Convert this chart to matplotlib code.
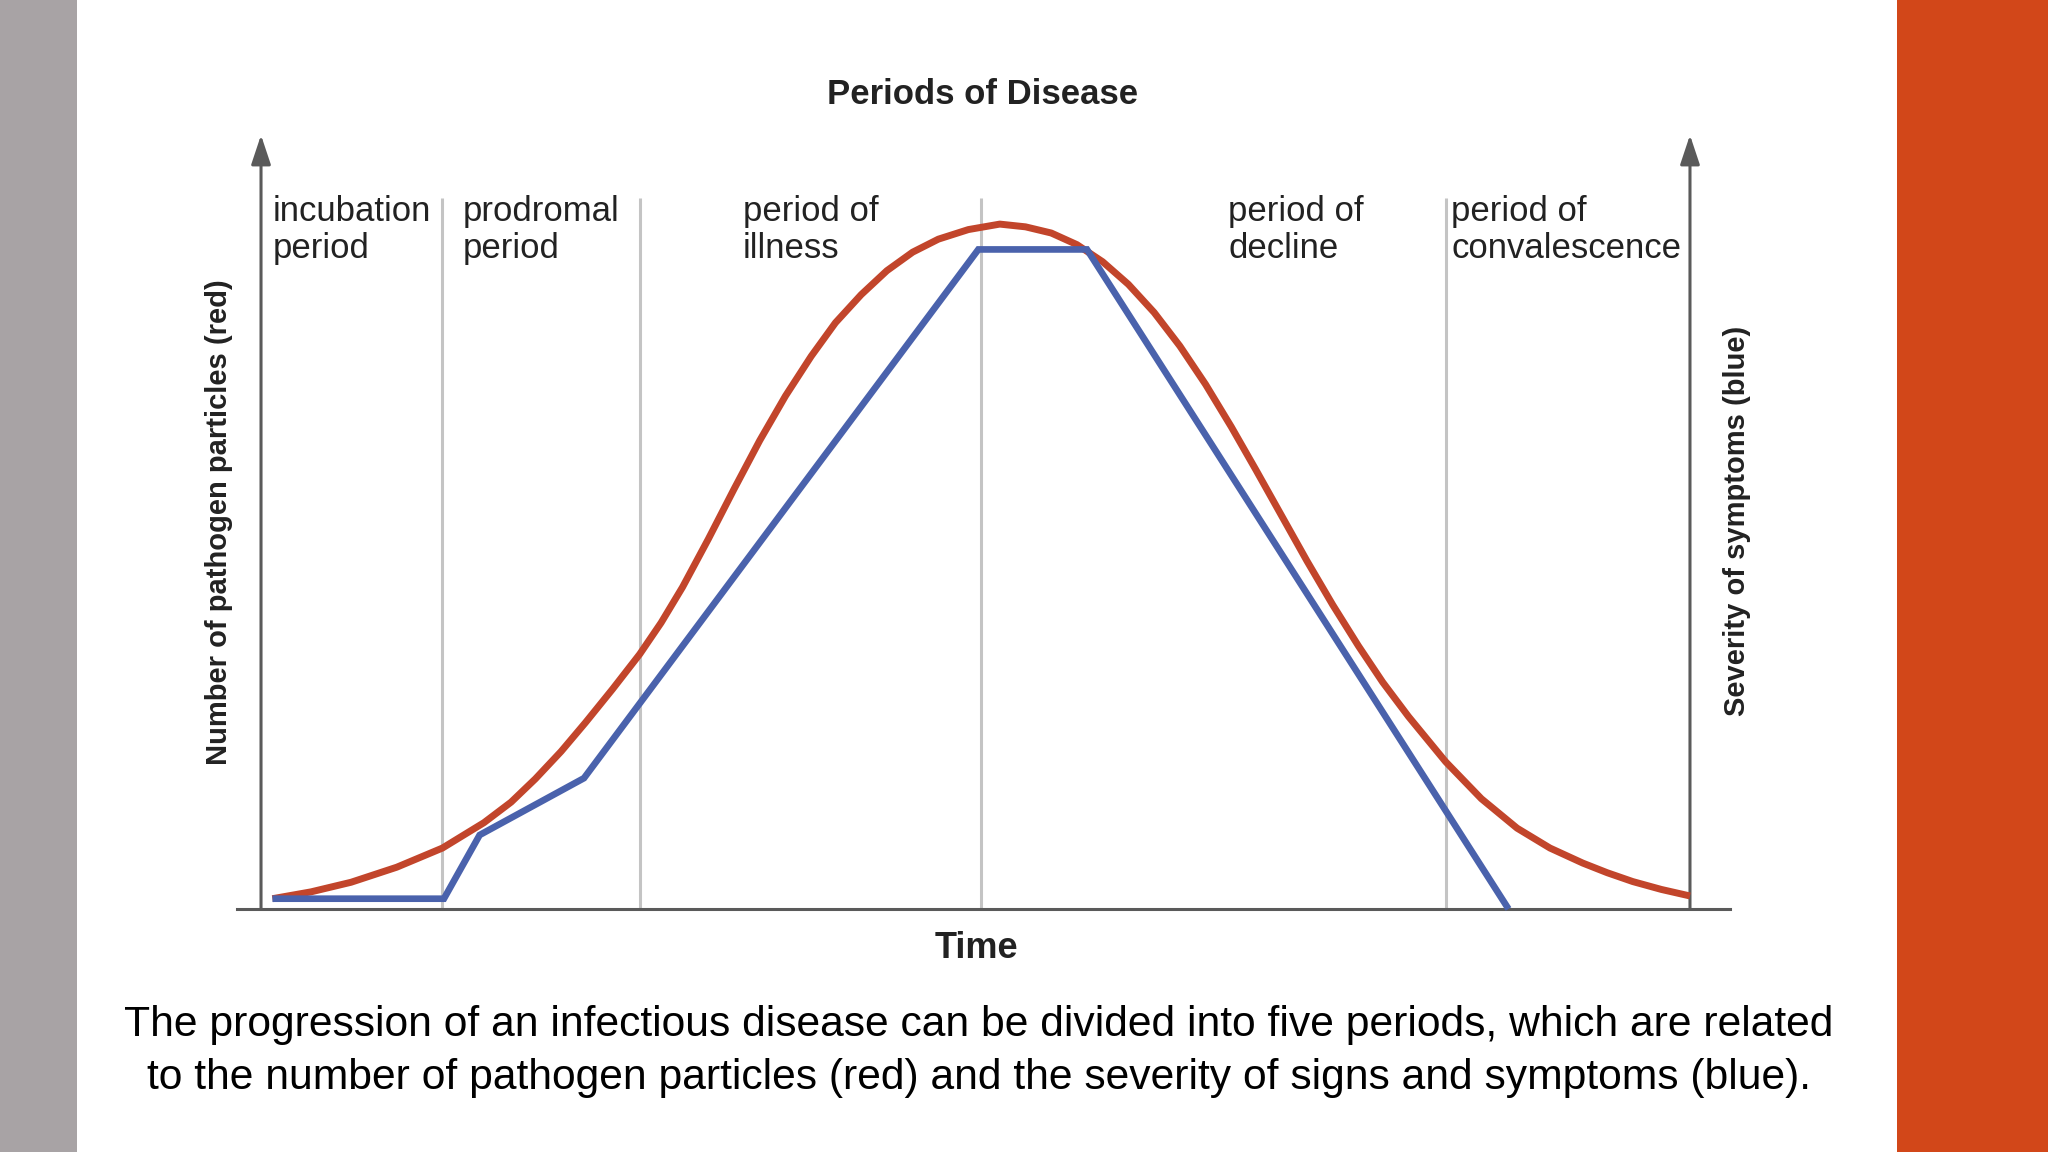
import matplotlib
matplotlib.use("Agg")
import matplotlib.pyplot as plt
from matplotlib.patches import Rectangle

# time runs from 0 (left axis) to 100 (right axis),
# levels are in % of the peak of the red curve
red_t = [0.8, 3.5, 6.3, 9.5, 12.7, 15.6, 17.5, 19.2, 21.0, 22.7, 24.6, 26.5,
         28.0, 29.5, 31.3, 33.1, 34.9, 36.7, 38.5, 40.2, 42.0, 43.8, 45.6,
         47.4, 49.5, 51.7, 53.5, 55.3, 57.1, 58.9, 60.7, 62.5, 64.3, 66.1,
         67.9, 69.6, 71.4, 73.2, 75.0, 76.8, 78.5, 80.3, 82.9, 85.4, 87.9,
         90.2, 92.5, 94.2, 96.0, 98.0, 100.0]
red_level = [1.5, 2.5, 3.9, 6.1, 8.9, 12.6, 15.6, 19.0, 23.0, 27.2, 32.1, 37.2,
             41.8, 47.0, 54.0, 61.3, 68.4, 74.9, 80.7, 85.6, 89.7, 93.2, 95.9,
             97.8, 99.2, 100.0, 99.6, 98.7, 97.0, 94.5, 91.2, 87.1, 82.2, 76.6,
             70.4, 64.2, 57.5, 50.8, 44.4, 38.4, 33.1, 28.1, 21.5, 16.1, 11.8,
             8.9, 6.7, 5.3, 4.0, 2.85, 1.9]

blue_t = [0.8, 12.8, 15.3, 22.6, 50.2, 57.8, 87.3]
blue_level = [1.5, 1.5, 10.8, 19.1, 96.3, 96.3, 0.0]

period_bounds = [12.7, 26.5, 50.4, 82.9]
period_labels = ["incubation\nperiod", "prodromal\nperiod", "period of\nillness",
                 "period of\ndecline", "period of\nconvalescence"]
period_label_x = [0.8, 14.1, 33.7, 67.7, 83.3]

caption_lines = [
    "The progression of an infectious disease can be divided into five periods, which are related",
    "to the number of pathogen particles (red) and the severity of signs and symptoms (blue).",
]

W, H = 2048, 1152
axis_col = "#5a5a5a"
red_col = "#c2452b"
blue_col = "#4a62ac"

fig = plt.figure(figsize=(W / 100, H / 100), dpi=100)
fig.patch.set_facecolor("white")
fig.add_artist(Rectangle((0, 0), 77 / W, 1, transform=fig.transFigure,
                         facecolor="#a8a3a5", edgecolor="none", zorder=0))
fig.add_artist(Rectangle((1897 / W, 0), 1 - 1897 / W, 1, transform=fig.transFigure,
                         facecolor="#d24719", edgecolor="none", zorder=0))

ax = fig.add_axes([200 / W, 192 / H, 1560 / W, 840 / H])
ax.set_xlim(-4.27, 104.9)
ax.set_ylim(-7.45, 115.2)
ax.axis("off")
ax.patch.set_alpha(0)

# period dividers
ax.vlines(period_bounds, 0, 103.8, color="#c4c4c4", lw=2.2, zorder=1)

# axes with arrow heads
ax.plot([-1.7, 102.8], [0, 0], color=axis_col, lw=2.2, zorder=2)
for xa in [0, 100]:
    ax.annotate("", xy=(xa, 113.0), xytext=(xa, 0),
                arrowprops=dict(arrowstyle="-|>,head_length=0.6,head_width=0.2",
                                color=axis_col, lw=2.2, mutation_scale=30,
                                shrinkA=0, shrinkB=0), zorder=2)

ax.plot(red_t, red_level, color=red_col, lw=5, solid_capstyle="butt",
        solid_joinstyle="round", zorder=3)
ax.plot(blue_t, blue_level, color=blue_col, lw=4.8, solid_capstyle="butt",
        solid_joinstyle="miter", zorder=4)

for x, lab in zip(period_label_x, period_labels):
    ax.text(x, 104.3, lab, ha="left", va="top", fontsize=25, color="#222222",
            family="Liberation Sans", linespacing=1.17)

fig.text(983 / W, 1 - 95 / H, "Periods of Disease", ha="center", va="center",
         fontsize=25, fontweight="bold", color="#222222", family="Liberation Sans")
fig.text(976 / W, 1 - 948 / H, "Time", ha="center", va="center",
         fontsize=26, fontweight="bold", color="#222222", family="Liberation Sans")
fig.text(219 / W, 1 - 522 / H, "Number of pathogen particles (red)", rotation=90,
         ha="center", va="center", fontsize=21, fontweight="bold", color="#222222",
         family="Liberation Sans")
fig.text(1737 / W, 1 - 521 / H, "Severity of symptoms (blue)", rotation=90,
         ha="center", va="center", fontsize=21, fontweight="bold", color="#222222",
         family="Liberation Sans")

for i, line in enumerate(caption_lines):
    fig.text(979 / W, 1 - (1025 + 53 * i) / H, line, ha="center", va="center",
             fontsize=30.7, color="black", family="Liberation Sans")

fig.savefig("out.png", dpi=100)
